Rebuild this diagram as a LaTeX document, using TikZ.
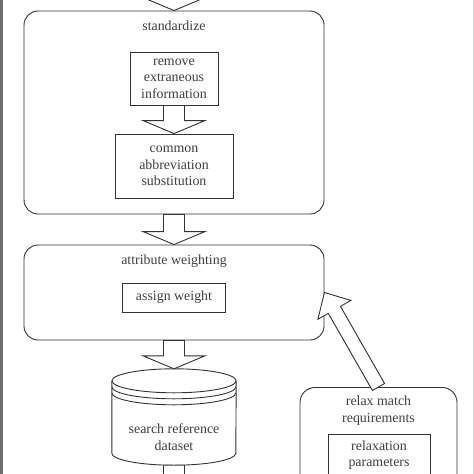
\documentclass[tikz,border=0pt]{standalone}
\usepackage{fontspec}
\setmainfont{Liberation Serif}
\usetikzlibrary{calc}
\tikzset{
  shaftw/.store in=\bsw, headw/.store in=\bhw, headl/.store in=\bhl,
  shaftw=10.5pt, headw=31pt, headl=13pt,
  ln/.style={draw=black!80, line width=0.9pt},
  txt/.style={text=black!75, font=\fontsize{13.9pt}{16.6pt}\selectfont, align=center, inner sep=0pt},
  group/.style={ln, rounded corners=14pt, inner sep=0pt},
  stepbox/.style={ln, txt},
  barrow/.style={ln, fill=white, line join=miter, to path={
     ($(\tikztostart)!\bsw!90:(\tikztotarget)$)
  -- ($(\tikztotarget)!\bhl!(\tikztostart)!\bsw!90:(\tikztotarget)$)
  -- ($(\tikztotarget)!\bhl!(\tikztostart)!\bhw!90:(\tikztotarget)$)
  -- (\tikztotarget)
  -- ($(\tikztotarget)!\bhl!(\tikztostart)!\bhw!-90:(\tikztotarget)$)
  -- ($(\tikztotarget)!\bhl!(\tikztostart)!\bsw!-90:(\tikztotarget)$)
  -- ($(\tikztostart)!\bsw!-90:(\tikztotarget)$) -- cycle}}
}
\begin{document}
\begin{tikzpicture}[x=1pt,y=-1pt]
\clip (0,0) rectangle (474,474);
\fill[white] (0,0) rectangle (474,474);
\fill[black!57] (0,0) rectangle (3,474);
\fill[black!18] (472.6,0) rectangle (474,474);

\node[group, minimum width=300pt, minimum height=203pt] (std) at (174,112.5) {};
\node[txt] (stdt) at (174,26) {standardize};
\node[stepbox, minimum width=88pt, minimum height=53pt] (rem) at (174,78.5) {remove\\extraneous\\information};
\node[stepbox, minimum width=118pt, minimum height=64pt] (abb) at (174,166) {common\\abbreviation\\substitution};

\node[group, minimum width=300pt, minimum height=95pt] (attr) at (174,292.5) {};
\node[txt] (attrt) at (174,261) {attribute weighting};
\node[stepbox, minimum width=103pt, minimum height=29pt] (wgt) at (174,297.5) {assign weight};

\node[minimum width=124pt, minimum height=96pt, inner sep=0pt] (db) at (174,417) {};
\draw[ln] ($(db.north west)+(0,12)$) -- ($(db.south west)+(0,-12)$) arc[start angle=180, end angle=360, x radius=62pt, y radius=12pt] -- ($(db.north east)+(0,12)$);
\draw[ln] ($(db.north)+(0,12)$) ellipse[x radius=62pt, y radius=12pt];
\draw[ln] ($(db.north west)+(0,18)$) arc[start angle=180, end angle=360, x radius=62pt, y radius=12pt];
\draw[ln] ($(db.north west)+(0,24)$) arc[start angle=180, end angle=360, x radius=62pt, y radius=12pt];
\node[txt] (dbt) at (174,437) {search reference\\dataset};

\node[group, rounded corners=15pt, anchor=north, minimum width=157pt, minimum height=110pt] (relax) at (378.5,387) {};
\node[txt] (relaxt) at (378.5,410.5) {relax match\\requirements};
\node[stepbox, minimum width=102pt, minimum height=42pt] (par) at (379,455) {relaxation\\parameters};

\coordinate (topin) at (174,-30);
\coordinate (botout) at (174,520);
\draw[barrow] (topin) to (std.north);
\draw[barrow] (rem.south) to (abb.north);
\draw[barrow] (std.south) to (attr.north);
\draw[barrow] (attr.south) to (db.north);
\draw[barrow] (db.south) to (botout);
\draw[barrow, shaftw=7pt, headw=19pt, headl=20pt] (relax.north) to (attr.east);
\end{tikzpicture}
\end{document}
